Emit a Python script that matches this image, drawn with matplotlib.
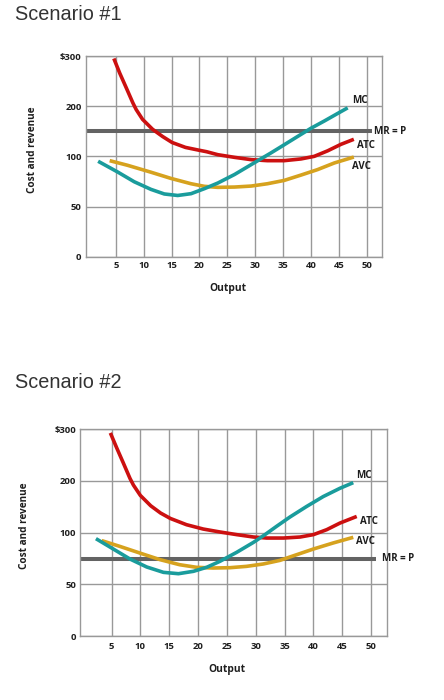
import numpy as np
import matplotlib
matplotlib.use("Agg")
import matplotlib.pyplot as plt

plt.rcParams['font.family'] = ['Open Sans', 'DejaVu Sans']

# ---------------- data ----------------
y_ticks = [0, 50, 100, 200, 300]
y_tick_labels = ['0', '50', '100', '200', '$300']
x_ticks = [5, 10, 15, 20, 25, 30, 35, 40, 45, 50]
x_tick_labels = ['5', '10', '15', '20', '25', '30', '35', '40', '45', '50']

# Scenario 1
atc1_x = [4.65, 5.7, 6.9, 8.06, 8.65, 9.8, 11.6, 13.4, 15.1, 17.5, 19.8, 21.3, 23.3, 26.3, 29.3,
          32.2, 35.2, 38.2, 40.6, 43.0, 45.4, 47.7]
atc1_y = [295, 266, 236, 206.6, 193.4, 173.7, 153.9, 139.5, 127.6, 117.8, 112.5, 109.2, 103.3, 99,
          96.7, 95.7, 95.7, 97.4, 100, 111, 124, 134]
mc1_x = [1.83, 5.3, 8.3, 11.3, 13.7, 16.1, 18.5, 20.9, 23.3, 26.3, 29.3, 31.0, 32.8, 35.2, 37.6,
         40.0, 42.4, 44.8, 46.6]
mc1_y = [95.1, 84.5, 74.7, 67.1, 62.5, 61, 62.8, 67.8, 73.4, 81.9, 91.8, 97.4, 106.6, 123, 139.5,
         155.9, 170.4, 185.5, 196.7]
avc1_x = [3.9, 7.1, 11.3, 14.9, 18.5, 20.9, 23.3, 26.3, 29.3, 32.2, 35.2, 38.2, 41.2, 44.2, 47.7]
avc1_y = [95.7, 91.1, 84.2, 78, 72.7, 70.1, 69.1, 69.4, 70.4, 72.7, 76, 81.3, 86.8, 93.4, 99.3]
mr1 = 150
mr1_span = [-0.4, 50.9]

# Scenario 2
atc2_x = [4.8, 5.9, 7.0, 8.2, 8.8, 10.0, 11.8, 13.5, 15.2, 18.0, 20.9, 23.8, 26.7, 29.6, 31.9,
          34.8, 37.7, 40.0, 42.3, 44.6, 47.5]
atc2_y = [293, 264, 236, 205, 192, 172, 152, 138, 127.5, 115.4, 107, 101.3, 98.1, 95.8, 94.8,
          94.8, 95.8, 98.1, 105.8, 118.6, 131.4]
mc2_x = [2.3, 5.3, 8.2, 11.1, 14.0, 16.6, 19.2, 21.5, 23.8, 26.7, 29.6, 31.6, 33.6, 35.9, 38.8,
         41.7, 44.6, 46.9]
mc2_y = [94.2, 84.2, 74.5, 66.8, 61.6, 60.3, 62.6, 66.5, 72.3, 81, 90.6, 98.1, 112.2, 130.1, 150.6,
         169.9, 185.9, 196.8]
avc2_x = [3.3, 6.4, 9.9, 13.4, 16.8, 19.7, 22.6, 25.5, 28.4, 31.3, 34.2, 37.1, 40.0, 43.4, 46.9]
avc2_y = [92.3, 86.8, 80.3, 73.9, 69, 66.5, 65.8, 66.1, 67.4, 69.7, 73.2, 78.7, 84.2, 90, 95.5]
mr2 = 75
mr2_span = [-0.4, 50.8]

# ---------------- styling ----------------
RED = '#cc1010'
TEAL = '#1a9c9c'
GOLD = '#d6a21e'
GRAY = '#636363'
GRID = '#999999'
TXT = '#1e1e1e'

ypos = np.arange(len(y_ticks), dtype=float)


def fwd(v):
    return np.interp(v, y_ticks, ypos)


def inv(v):
    return np.interp(v, ypos, y_ticks)


fig = plt.figure(figsize=(4.44, 7.0), dpi=100)
fig.patch.set_facecolor('white')


def make_panel(rect, title, title_y, atc, mc, avc, mr, mr_span, labels, ylab_xy, xlab_xy, xpad):
    ax = fig.add_axes(rect)
    ax.set_yscale('function', functions=(fwd, inv))
    ax.set_ylim(0, 300)
    ax.set_xlim(-0.4, 52.7)
    ax.set_yticks(y_ticks)
    ax.set_yticklabels(y_tick_labels)
    ax.set_xticks(x_ticks)
    ax.set_xticklabels(x_tick_labels)
    ax.tick_params(axis='both', length=0, labelsize=6.8, colors=TXT)
    ax.tick_params(axis='x', pad=xpad)
    ax.tick_params(axis='y', pad=3.0)
    for lab in ax.get_xticklabels() + ax.get_yticklabels():
        lab.set_fontweight('bold')
    ax.grid(True, color=GRID, lw=1.0, zorder=0)
    ax.set_axisbelow(True)
    for s in ax.spines.values():
        s.set_color(GRID)
        s.set_linewidth(1.0)

    ax.hlines(mr, mr_span[0], mr_span[1], color=GRAY, lw=2.9, zorder=2, clip_on=False)
    ax.plot(avc[0], avc[1], color=GOLD, lw=2.6, zorder=3, solid_capstyle='butt',
            solid_joinstyle='round')
    ax.plot(atc[0], atc[1], color=RED, lw=2.6, zorder=4, solid_capstyle='butt',
            solid_joinstyle='round')
    ax.plot(mc[0], mc[1], color=TEAL, lw=2.6, zorder=5, solid_capstyle='butt',
            solid_joinstyle='round')

    for (txt, lx, ly) in labels:
        ax.text(lx, ly, txt, fontsize=7, fontweight='bold', color=TXT,
                ha='left', va='center', clip_on=False)

    ax.set_ylabel('Cost and revenue', fontsize=7.2, fontweight='bold', color=TXT)
    ax.yaxis.set_label_coords(*ylab_xy)
    ax.set_xlabel('Output', fontsize=7.4, fontweight='bold', color=TXT)
    ax.xaxis.set_label_coords(*xlab_xy)

    fig.text(0.034, title_y, title, fontsize=14.3, color='#333333',
             family=['Liberation Sans', 'DejaVu Sans'], ha='left', va='baseline')
    return ax


labels1 = [('MC', 47.4, 211), ('MR = P', 51.4, 150), ('ATC', 48.2, 121), ('AVC', 47.4, 90)]
labels2 = [('MC', 47.4, 211), ('ATC', 48.1, 122), ('AVC', 47.4, 91), ('MR = P', 51.9, 75)]

make_panel([0.193, 0.6333, 0.6667, 0.2867], 'Scenario #1', 0.9714,
           (atc1_x, atc1_y), (mc1_x, mc1_y), (avc1_x, avc1_y), mr1, mr1_span,
           labels1, (-0.162, 0.532), (0.481, -0.131), 3.4)

make_panel([0.181, 0.0914, 0.690, 0.2953], 'Scenario #2', 0.4457,
           (atc2_x, atc2_y), (mc2_x, mc2_y), (avc2_x, avc2_y), mr2, mr2_span,
           labels2, (-0.165, 0.532), (0.480, -0.135), 4.2)

fig.savefig('out.png', dpi=100, facecolor='white')
